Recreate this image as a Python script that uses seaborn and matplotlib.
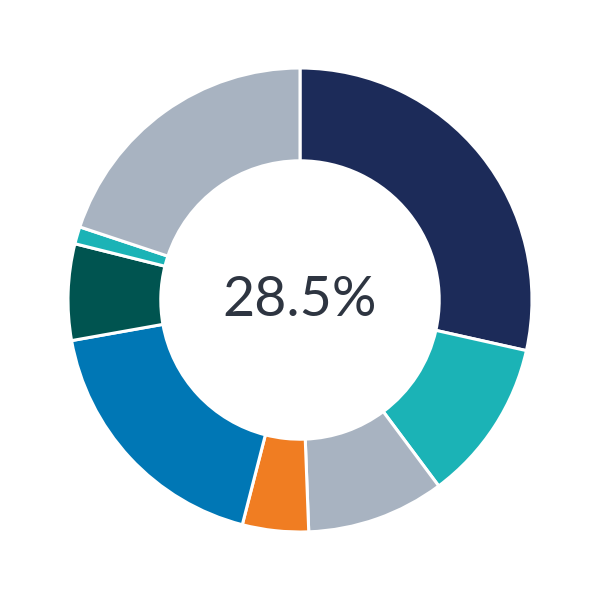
import matplotlib
matplotlib.use("Agg")
import matplotlib.pyplot as plt
import seaborn as sns

# segment shares, clockwise from 12 o'clock
labels = ["A", "B", "C", "D", "E", "F", "G", "H"]
shares = [28.5, 11.3, 9.6, 4.6, 18.2, 6.7, 1.2, 19.9]
colors = ["#1c2b59", "#1bb3b6", "#a8b3c1", "#f07d22",
          "#0077b5", "#005450", "#1bb3b6", "#a8b3c1"]
center_text = "28.5%"

sns.set_theme(style="white")
palette = sns.color_palette(colors)

fig = plt.figure(figsize=(6, 6), dpi=100)
ax = fig.add_axes([0, 0, 1, 1])

ax.pie(shares, colors=palette, startangle=90, counterclock=False,
       radius=1.0,
       wedgeprops=dict(width=0.4, edgecolor="white", linewidth=2.2))

ax.text(0, 0, center_text, ha="center", va="center",
        fontsize=40, color="#2e3541", family=["Lato", "DejaVu Sans"])

lim = 300 / 232
ax.set_xlim(-lim, lim)
ax.set_ylim(-lim, lim)
ax.set_aspect("equal")
ax.axis("off")

fig.savefig("out.png", dpi=100, facecolor="white")
